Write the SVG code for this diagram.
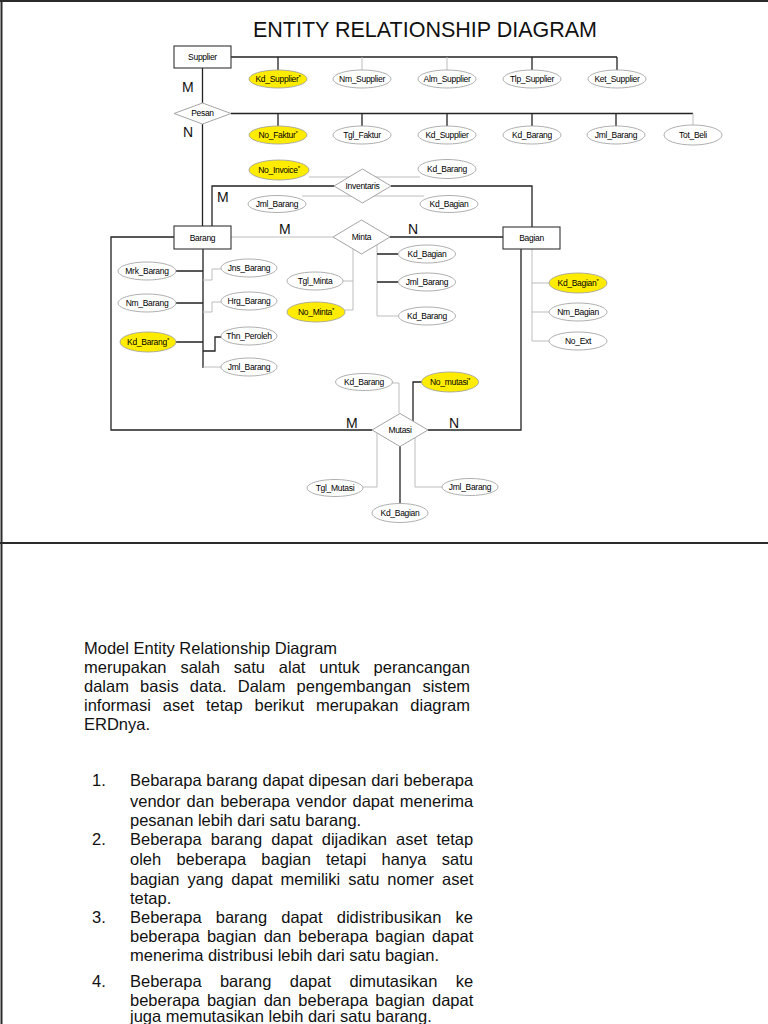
<svg xmlns="http://www.w3.org/2000/svg" width="768" height="1024" viewBox="0 0 768 1024">
<style>
.frame{stroke:#2a2a2a;stroke-width:2;fill:none}
.cd{stroke:#222;stroke-width:1.3;fill:none}
.cl{stroke:#bdbdbd;stroke-width:1;fill:none}
.ent{fill:#fff;stroke:#333;stroke-width:1.1}
.rel{fill:#fff;stroke:#9a9a9a;stroke-width:0.9}
.att{fill:#fff;stroke:#9a9a9a;stroke-width:0.8}
.key{fill:#ffec00;stroke:#9a9a9a;stroke-width:0.8}
.lbl{font-family:"Liberation Sans",Arial,sans-serif;font-size:8.5px;text-anchor:middle;fill:#000;letter-spacing:-0.3px}
.card{font-family:"Liberation Sans",Arial,sans-serif;font-size:14px;fill:#111}
.title{font-family:"Liberation Sans",Arial,sans-serif;font-size:21.5px;text-anchor:middle;fill:#111}
.body{font-family:"Liberation Sans",Arial,sans-serif;font-size:16.5px;fill:#111}
.sup{font-size:6px}
</style>
<rect x="0" y="0" width="768" height="1024" fill="#fff"/>
<g id="frame">
<path class="frame" d="M0,1H768 M1.5,0V1024 M0,543H768"/>
</g>
<text class="title" x="425" y="37">ENTITY RELATIONSHIP DIAGRAM</text>

<g id="connectors">
<path class="cd" d="M231,57H617 M278,57V70 M532,57V70 M617,57V70"/>
<path class="cl" d="M362,57V70 M447,57V70"/>
<path class="cd" d="M202.5,68V103 M202.5,124V226"/>
<path class="cd" d="M231,113.5H693 M278,113.5V126 M362,113.5V126 M447,113.5V126 M532,113.5V126 M616,113.5V126"/>
<path class="cl" d="M693,113.5V125"/>
<path class="cd" d="M212,226V186H334 M391,186H532V227"/>
<path class="cl" d="M309,177H420 M302,196H424"/>
<path class="cl" d="M231,237H333"/>
<path class="cd" d="M390,237H503"/>
<path class="cd" d="M174,237H111V430H372"/>
<path class="cd" d="M521,249V430H428"/>
<path class="cd" d="M203,249V368 M176,271H203 M176,303H203 M176,342H203 M203,351H215V337H221"/>
<path class="cl" d="M203,280H212V269H221 M203,312H212V302H221 M203,367H221"/>
<path class="cl" d="M353,249V310 M343,281H353 M345,310H353 M377,245V316 M377,316H398"/>
<path class="cd" d="M377,254H398 M377,282H398"/>
<path class="cl" d="M532,249V341 M532,283H549 M532,312H549 M532,341H549"/>
<path class="cl" d="M392,383H399V413 M363,487H377V433 M442,487H415V438"/>
<path class="cd" d="M422,382H413V421 M400,446V503"/>
</g>

<g id="card-labels">
<text class="card" x="182" y="92">M</text>
<text class="card" x="183" y="137">N</text>
<text class="card" x="217" y="202">M</text>
<text class="card" x="279" y="234">M</text>
<text class="card" x="408" y="234">N</text>
<text class="card" x="346" y="428">M</text>
<text class="card" x="449" y="428">N</text>
</g>

<g id="supplier"><rect class="ent" x="174" y="46" width="57" height="22"/><text class="lbl" x="202.5" y="60">Supplier</text></g>
<g id="barang"><rect class="ent" x="174" y="226" width="57" height="23"/><text class="lbl" x="202.5" y="240.5">Barang</text></g>
<g id="bagian"><rect class="ent" x="503" y="227" width="57" height="22"/><text class="lbl" x="531.5" y="241">Bagian</text></g>

<g id="pesan"><polygon class="rel" points="174,113.5 202.5,103 231,113.5 202.5,124"/><text class="lbl" x="202.5" y="116">Pesan</text></g>
<g id="inventaris"><polygon class="rel" points="334,186 362.5,169 391,186 362.5,203"/><text class="lbl" x="362.5" y="189">Inventaris</text></g>
<g id="minta"><polygon class="rel" points="333,237 361.5,220 390,237 361.5,254"/><text class="lbl" x="361.5" y="240">Minta</text></g>
<g id="mutasi"><polygon class="rel" points="372,430 400,413.5 428,430 400,446.5"/><text class="lbl" x="400" y="433">Mutasi</text></g>

<g id="attr-supplier">
<ellipse class="key" cx="278" cy="79" rx="29" ry="9"/><text class="lbl" x="278" y="82">Kd_Supplier<tspan class="sup" dy="-3">*</tspan></text>
<ellipse class="att" cx="362" cy="79" rx="29" ry="9"/><text class="lbl" x="362" y="82">Nm_Supplier</text>
<ellipse class="att" cx="447" cy="79" rx="29" ry="9"/><text class="lbl" x="447" y="82">Alm_Supplier</text>
<ellipse class="att" cx="532" cy="79" rx="29" ry="9"/><text class="lbl" x="532" y="82">Tlp_Supplier</text>
<ellipse class="att" cx="617" cy="79" rx="29" ry="9"/><text class="lbl" x="617" y="82">Ket_Supplier</text>
</g>
<g id="attr-pesan">
<ellipse class="key" cx="278" cy="135" rx="29" ry="9"/><text class="lbl" x="278" y="138">No_Faktur<tspan class="sup" dy="-3">*</tspan></text>
<ellipse class="att" cx="362" cy="135" rx="29" ry="9"/><text class="lbl" x="362" y="138">Tgl_Faktur</text>
<ellipse class="att" cx="447" cy="135" rx="29" ry="9"/><text class="lbl" x="447" y="138">Kd_Supplier</text>
<ellipse class="att" cx="532" cy="135" rx="29" ry="9"/><text class="lbl" x="532" y="138">Kd_Barang</text>
<ellipse class="att" cx="616" cy="135" rx="29" ry="9"/><text class="lbl" x="616" y="138">Jml_Barang</text>
<ellipse class="att" cx="693" cy="135" rx="29" ry="10"/><text class="lbl" x="693" y="138">Tot_Beli</text>
</g>
<g id="attr-inventaris">
<ellipse class="key" cx="279" cy="170" rx="30" ry="10"/><text class="lbl" x="279" y="173">No_Invoice<tspan class="sup" dy="-3">*</tspan></text>
<ellipse class="att" cx="447" cy="169" rx="29" ry="9.5"/><text class="lbl" x="447" y="172">Kd_Barang</text>
<ellipse class="att" cx="277" cy="204" rx="29" ry="8.5"/><text class="lbl" x="277" y="207">Jml_Barang</text>
<ellipse class="att" cx="449" cy="204" rx="29" ry="8.5"/><text class="lbl" x="449" y="207">Kd_Bagian</text>
</g>
<g id="attr-barang">
<ellipse class="att" cx="147" cy="271" rx="29" ry="9"/><text class="lbl" x="147" y="274">Mrk_Barang</text>
<ellipse class="att" cx="147" cy="303" rx="29" ry="9"/><text class="lbl" x="147" y="306">Nm_Barang</text>
<ellipse class="key" cx="148" cy="342" rx="28" ry="10"/><text class="lbl" x="148" y="345">Kd_Barang<tspan class="sup" dy="-3">*</tspan></text>
<ellipse class="att" cx="249" cy="268" rx="28" ry="9"/><text class="lbl" x="249" y="271">Jns_Barang</text>
<ellipse class="att" cx="249" cy="301" rx="28" ry="9"/><text class="lbl" x="249" y="304">Hrg_Barang</text>
<ellipse class="att" cx="249" cy="336" rx="28" ry="9"/><text class="lbl" x="249" y="339">Thn_Peroleh</text>
<ellipse class="att" cx="249" cy="367" rx="28" ry="9"/><text class="lbl" x="249" y="370">Jml_Barang</text>
</g>
<g id="attr-minta">
<ellipse class="att" cx="315" cy="281" rx="28" ry="9"/><text class="lbl" x="315" y="284">Tgl_Minta</text>
<ellipse class="key" cx="316" cy="312" rx="29" ry="10"/><text class="lbl" x="316" y="315">No_Minta<tspan class="sup" dy="-3">*</tspan></text>
<ellipse class="att" cx="427" cy="254" rx="28.5" ry="9"/><text class="lbl" x="427" y="257">Kd_Bagian</text>
<ellipse class="att" cx="427" cy="282" rx="28.5" ry="9"/><text class="lbl" x="427" y="285">Jml_Barang</text>
<ellipse class="att" cx="427" cy="316" rx="28.5" ry="9"/><text class="lbl" x="427" y="319">Kd_Barang</text>
</g>
<g id="attr-bagian">
<ellipse class="key" cx="578" cy="283" rx="29" ry="10"/><text class="lbl" x="578" y="286">Kd_Bagian<tspan class="sup" dy="-3">*</tspan></text>
<ellipse class="att" cx="578" cy="312" rx="29" ry="9"/><text class="lbl" x="578" y="315">Nm_Bagian</text>
<ellipse class="att" cx="578" cy="341" rx="29" ry="9"/><text class="lbl" x="578" y="344">No_Ext</text>
</g>
<g id="attr-mutasi">
<ellipse class="att" cx="364" cy="382" rx="28.5" ry="8.5"/><text class="lbl" x="364" y="385">Kd_Barang</text>
<ellipse class="key" cx="450" cy="382" rx="28.5" ry="10"/><text class="lbl" x="450" y="385">No_mutasi<tspan class="sup" dy="-3">*</tspan></text>
<ellipse class="att" cx="335" cy="488" rx="28" ry="8.5"/><text class="lbl" x="335" y="491">Tgl_Mutasi</text>
<ellipse class="att" cx="400" cy="513" rx="28" ry="9.5"/><text class="lbl" x="400" y="516">Kd_Bagian</text>
<ellipse class="att" cx="470" cy="487" rx="28" ry="8.5"/><text class="lbl" x="470" y="490">Jml_Barang</text>
</g>

<g id="description">
<text class="body" x="84" y="654">Model Entity Relationship Diagram</text>
<text class="body" x="84" y="673" word-spacing="9.3">merupakan salah satu alat untuk perancangan</text>
<text class="body" x="84" y="692" word-spacing="6.6">dalam basis data. Dalam pengembangan sistem</text>
<text class="body" x="84" y="711" word-spacing="7.3">informasi aset tetap berikut merupakan diagram</text>
<text class="body" x="84" y="730">ERDnya.</text>
</g>
<g id="list">
<text class="body" x="92" y="786">1.</text>
<text class="body" x="130" y="786" word-spacing="0.2">Bebarapa barang dapat dipesan dari beberapa</text>
<text class="body" x="130" y="807" word-spacing="1.5">vendor dan beberapa vendor dapat menerima</text>
<text class="body" x="130" y="826">pesanan lebih dari satu barang.</text>
<text class="body" x="92" y="845">2.</text>
<text class="body" x="130" y="845" word-spacing="4.6">Beberapa barang dapat dijadikan aset tetap</text>
<text class="body" x="130" y="865" word-spacing="10.6">oleh beberapa bagian tetapi hanya satu</text>
<text class="body" x="130" y="885" word-spacing="3.4">bagian yang dapat memiliki satu nomer aset</text>
<text class="body" x="130" y="904">tetap.</text>
<text class="body" x="92" y="923">3.</text>
<text class="body" x="130" y="923" word-spacing="9.6">Beberapa barang dapat didistribusikan ke</text>
<text class="body" x="130" y="942" word-spacing="2.6">beberapa bagian dan beberapa bagian dapat</text>
<text class="body" x="130" y="961">menerima distribusi lebih dari satu bagian.</text>
<text class="body" x="92" y="987">4.</text>
<text class="body" x="130" y="987" word-spacing="13.8">Beberapa barang dapat dimutasikan ke</text>
<text class="body" x="130" y="1006" word-spacing="2.6">beberapa bagian dan beberapa bagian dapat</text>
<text class="body" x="130" y="1022">juga memutasikan lebih dari satu barang.</text>
</g>
</svg>
